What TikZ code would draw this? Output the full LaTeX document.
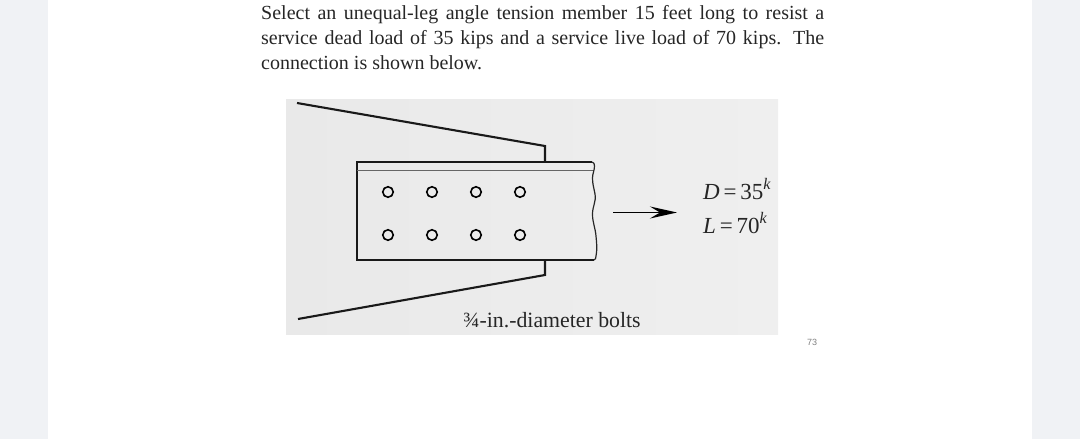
\documentclass[tikz,border=0pt]{standalone}
\usepackage{fontspec}
\setmainfont{Liberation Serif}
\setsansfont{Liberation Sans}
\usetikzlibrary{arrows.meta}
\definecolor{pagegrey}{HTML}{F0F2F5}
\definecolor{figleft}{HTML}{E9E9E9}
\definecolor{figmid}{HTML}{F2F2F2}
\definecolor{figright}{HTML}{EFEFEF}
\tikzset{
    hole/.style={circle,draw,line width=1.6pt,inner sep=0pt,minimum size=10.5pt},
    plate/.style={line width=2.1pt,black!90,line join=miter},
    figlabel/.style={inner sep=0pt,anchor=base west,font=\fontsize{23}{24}\selectfont,text=black!85}
}
\begin{document}
\begin{tikzpicture}[x=1pt,y=-1pt]
    \useasboundingbox (0,0) rectangle (1080,439);
    \fill[pagegrey] (0,0) rectangle (48,439);
    \fill[pagegrey] (1032,0) rectangle (1080,439);
    \shade[left color=figleft,middle color=figmid,right color=figright] (286,99) rectangle (778,334);
    % text above the figure
    \node[anchor=north west,inner sep=0pt,align=left,font=\fontsize{20}{25.3}\selectfont,text=black!85] (task) at (261,5) {\makebox[563pt][s]{Select an unequal-leg angle tension member 15 feet long to resist a}\\\makebox[563pt][s]{service dead load of 35 kips and a service live load of 70 kips. The}\\connection is shown below.};
    % gusset plate
    \coordinate (gtl) at (297,103);
    \coordinate (gtr) at (545,146);
    \coordinate (gti) at (545,162);
    \coordinate (gbl) at (298,319);
    \coordinate (gbr) at (545,275);
    \coordinate (gbi) at (545,260);
    \draw[plate] (gtl) -- (gtr) -- (gti);
    \draw[plate] (gbl) -- (gbr) -- (gbi);
    % angle
    \coordinate (atl) at (357,162);
    \coordinate (atr) at (592,162);
    \coordinate (abl) at (357,260);
    \coordinate (abr) at (594,260);
    \coordinate (ktl) at (357,170.5);
    \coordinate (ktr) at (594,170.5);
    \draw[plate] (atr) -- (atl) -- (abl) -- (abr);
    \draw[line width=1.2pt,black!60] (ktl) -- (ktr);
    \draw[line width=1.2pt,black!85] (atr) to[out=0,in=90] (594.5,166) to[out=-90,in=90] (592.5,178) to[out=-90,in=100] (595,194) to[out=-80,in=90] (592.5,214) to[out=-90,in=95] (596,236) to[out=-85,in=80] (596,256) to[out=-100,in=0] (abr);
    % bolts
    \node[hole] (b11) at (388,192) {};
    \node[hole] (b12) at (432,192) {};
    \node[hole] (b13) at (476,192) {};
    \node[hole] (b14) at (520,192) {};
    \node[hole] (b21) at (388,235) {};
    \node[hole] (b22) at (432,235) {};
    \node[hole] (b23) at (476,235) {};
    \node[hole] (b24) at (520,235) {};
    % load
    \coordinate (ls) at (613,212.5);
    \coordinate (le) at (677,212.5);
    \draw[-{Stealth[length=27pt,width=12pt,inset=10pt]},line width=1.4pt] (ls) -- (le);
    \node[figlabel] (dead) at (703,199) {$\mathit{D}$\,=\,35$^{\mathit{k}}$};
    \node[figlabel] (live) at (703,233) {$\mathit{L}$\,=\,70$^{\mathit{k}}$};
    \node[anchor=base,inner sep=0pt,font=\fontsize{21.8}{24}\selectfont,text=black!85] (bolts) at (552,327) {¾-in.-diameter bolts};
    \node[anchor=base,inner sep=0pt,font=\sffamily\fontsize{9}{11}\selectfont,text=black!50] (page) at (812,345) {73};
\end{tikzpicture}
\end{document}
